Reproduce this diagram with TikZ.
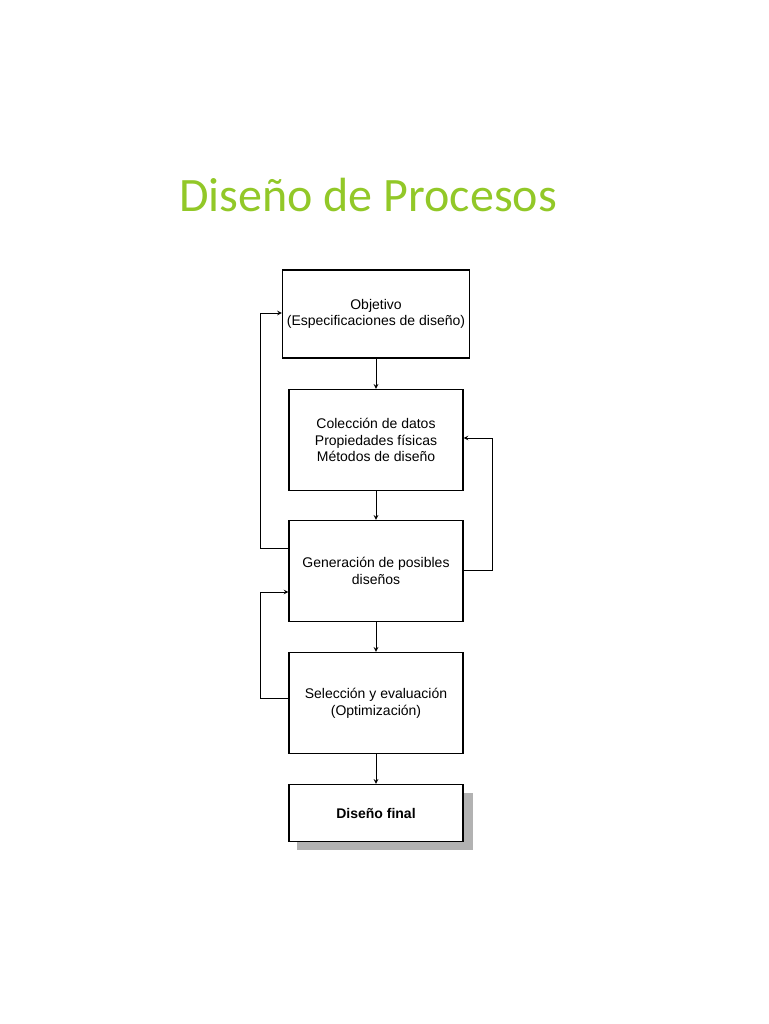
\documentclass[tikz,border=0pt]{standalone}
\usepackage{fontspec}
\setmainfont{Liberation Sans}
\newfontfamily\titlefont{Carlito}
\usetikzlibrary{positioning}
\definecolor{titlegreen}{RGB}{146,200,40}

\begin{document}
\begin{tikzpicture}[
            x = 0.75pt, y = -0.75pt, % pixel units
            > = stealth, % arrow head style
            semithick % line style
        ]

        \tikzset{
            stage/.style = {
                draw = black,
                fill = white,
                thick,
                minimum width = 130.5pt,
                align = center,
                font = \fontsize{10.5}{12.5}\selectfont
            }
        }

        \useasboundingbox (0,0) rectangle (768,1024);

        \node[text = titlegreen, font = \titlefont\fontsize{36}{40}\selectfont] (title) at (368,195) {Diseño de Procesos};

        \node[stage, minimum height = 66pt] (obj) at (376,314) {Objetivo\\(Especificaciones de diseño)};
        \node[stage, minimum height = 76pt] (dat) at (376,440) {Colección de datos\\Propiedades físicas\\Métodos de diseño};
        \node[stage, minimum height = 76pt] (gen) at (376,571) {Generación de posibles\\diseños};
        \node[stage, minimum height = 76pt] (sel) at (376,703) {Selección y evaluación\\(Optimización)};
        \fill[gray!60] (297,793) rectangle (473,850);
        \node[stage, minimum height = 43pt, font = \bfseries\fontsize{10.5}{12.5}\selectfont] (fin) at (376,813) {Diseño final};

        \draw[->] (obj) -- (dat);
        \draw[->] (dat) -- (gen);
        \draw[->] (gen) -- (sel);
        \draw[->] (sel) -- (fin);

        \draw[->] (gen.west |- 0,548) -| (260,313) -- (obj.west |- 0,313);
        \draw[->] (gen.east |- 0,570) -| (492,438) -- (dat.east |- 0,438);
        \draw[->] (sel.west |- 0,698) -| (260,592) -- (gen.west |- 0,592);

  \end{tikzpicture}
\end{document}
